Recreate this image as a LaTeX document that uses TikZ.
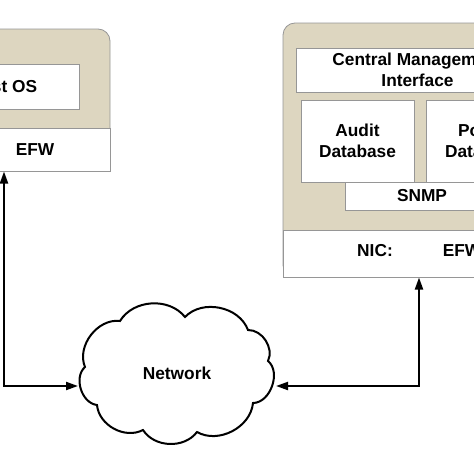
\documentclass[tikz,border=0pt]{standalone}
\usepackage{fontspec}
\setmainfont{Liberation Sans}
\usetikzlibrary{arrows.meta}
\definecolor{beige}{RGB}{221,214,192}
\definecolor{boxgray}{RGB}{150,150,150}
\begin{document}
\begin{tikzpicture}[x=1pt,y=-1pt,
  lbl/.style={font=\fontsize{17.3}{21}\selectfont\bfseries, align=center},
  wbox/.style={draw=boxgray, fill=white, line width=0.8pt, inner sep=0pt, lbl},
  panel/.style={draw=boxgray, fill=beige, line width=0.8pt, rounded corners=12pt},
  conn/.style={line width=2pt, {Triangle[length=12pt,width=8pt]}-{Triangle[length=12pt,width=8pt]}}]
\path[use as bounding box] (0,0) rectangle (474,474);
\clip (0,0) rectangle (474,474);
% left host
\path[panel] (-40,29) rectangle (110,171);
\node[wbox, minimum width=152pt, minimum height=45pt] (hostos) at (3,86.5) {Host OS};
\node[wbox, minimum width=150pt, minimum height=43pt] (lefw) at (35,149.5) {EFW};
% right management host
\path[panel] (283,23) rectangle (580,277);
\node[wbox, minimum width=243pt, minimum height=44pt] (cmi) at (417.5,70) {Central Management\\Interface};
\node[wbox, minimum width=113pt, minimum height=82pt] (audit) at (357.5,141) {Audit\\Database};
\node[wbox, minimum width=115pt, minimum height=82pt] (policy) at (483.5,141) {Policy\\Database};
\node[wbox, minimum width=154pt, minimum height=28pt] (snmp) at (422,196) {SNMP};
\node[wbox, minimum width=297pt, minimum height=47pt] (nic) at (431.5,253.5) {};
\node[lbl] (niclbl) at (375,251) {NIC:};
\node[lbl] (efwlbl) at (462,251) {EFW};
% network cloud
\draw[line width=2pt, fill=white]
  (97,405) to[bend left=66] (85,367)
  to[bend left=60] (120,321)
  to[bend left=55] (185,317)
  to[bend left=58] (248,330)
  to[bend left=58] (268,361)
  to[bend left=70] (253,403)
  to[bend left=57] (197,432)
  to[bend left=55] (143,430)
  to[bend left=56] (97,405) -- cycle;
\node[lbl] (net) at (177,373) {Network};
\coordinate (cl) at (78,386);
\coordinate (cr) at (276,386);
\coordinate (la) at (4,171.5);
\coordinate (ra) at (419,277.5);
\draw[conn] (la) |- (cl);
\draw[conn] (cr) -| (ra);
\end{tikzpicture}
\end{document}
